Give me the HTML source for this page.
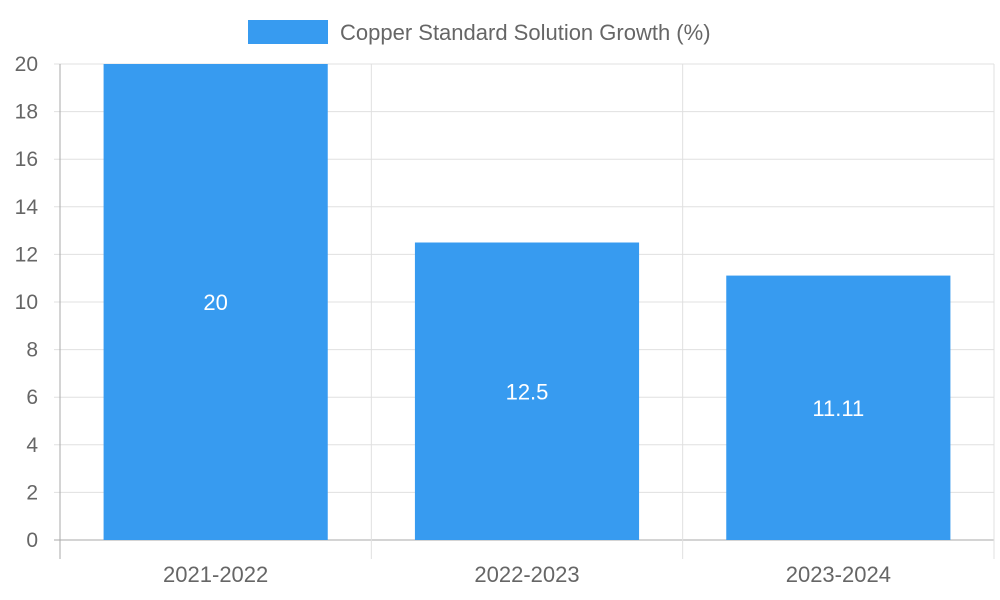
<!DOCTYPE html>
<html><head><meta charset="utf-8"><style>
html,body{margin:0;padding:0;background:#fff;}
svg{display:block;font-family:"Liberation Sans",sans-serif;}
</style></head><body>
<svg id="chart" width="1000" height="600" xmlns="http://www.w3.org/2000/svg">
<g id="grid"></g>
<g id="bars"></g>
<g id="axes"></g>
<g>
<rect x="248" y="20" width="80" height="24" fill="#379bf0"/>
<text x="340" y="40" font-size="22" fill="#666">Copper Standard Solution Growth (%)</text>
</g>
</svg>
<script>
const categories = ["2021-2022","2022-2023","2023-2024"];
const values = [20, 12.5, 11.11];
const valueLabels = ["20","12.5","11.11"];
const yTicks = [0,2,4,6,8,10,12,14,16,18,20];

const NS="http://www.w3.org/2000/svg";
const L=60,R=994,T=64,B=540,yMax=20;
const y=v=>B-(v/yMax)*(B-T);
const band=(R-L)/categories.length;
const x=i=>L+band*i;
function mk(tag,attrs,parent,text){const e=document.createElementNS(NS,tag);for(const k in attrs)e.setAttribute(k,attrs[k]);if(text!==undefined)e.textContent=text;parent.appendChild(e);return e;}
const grid=document.getElementById('grid'),bars=document.getElementById('bars'),axes=document.getElementById('axes');
yTicks.forEach(t=>{
  const ln=mk('line',{x1:L-6,x2:R,y1:y(t),y2:y(t),stroke:t===0?'#aaa':'#e0e0e0','stroke-width':1},grid);
  
  
  const tx=mk('text',{x:38,y:y(t)+7,'text-anchor':'end','font-size':21,fill:'#666'},axes,String(t));
  
  
});
for(let i=0;i<=categories.length;i++){
  const ln=mk('line',{x1:x(i),x2:x(i),y1:T,y2:B+19,stroke:i===0?'#aaa':'#e0e0e0','stroke-width':1},grid);
  
  
}
categories.forEach((c,i)=>{
  const bw=band*0.72,bx=x(i)+(band-bw)/2;
  const r=mk('rect',{x:bx,y:y(values[i]),width:bw,height:B-y(values[i]),fill:'#379bf0'},bars);
  
  
  const vl=mk('text',{x:x(i)+band/2,y:(y(values[i])+B)/2+8,'text-anchor':'middle','font-size':22,fill:'#fff'},bars,valueLabels[i]);
  
  
  const cl=mk('text',{x:x(i)+band/2,y:582,'text-anchor':'middle','font-size':22,fill:'#666'},axes,c);
  
  
});
</script>
</body></html>
